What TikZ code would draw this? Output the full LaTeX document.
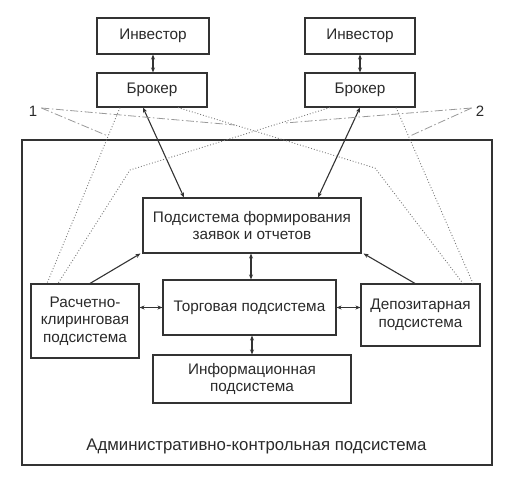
\documentclass[tikz,border=0pt]{standalone}
\usepackage{fontspec}
\setmainfont{Liberation Sans}
\usetikzlibrary{arrows.meta,calc}
\definecolor{ink}{HTML}{333333}
\definecolor{txt}{HTML}{2A2A2A}
\definecolor{dotc}{HTML}{777777}
\definecolor{dashc}{HTML}{999999}
\begin{document}
\begin{tikzpicture}[x=1pt,y=-1pt,
  box/.style={draw=ink,line width=1.1pt,inner sep=0pt,align=center,text=txt,font=\fontsize{15.3}{17.5}\selectfont},
  dbl/.style={draw=ink,line width=1.1pt,{Stealth[length=5pt,width=4pt]}-{Stealth[length=5pt,width=4pt]}},
  one/.style={draw=ink,line width=1.1pt,-{Stealth[length=5pt,width=4pt]}},
  dots/.style={draw=dotc,line width=0.9pt,dash pattern=on 0.9pt off 2pt},
  dd/.style={draw=dashc,line width=0.8pt,dash pattern=on 8pt off 2.5pt on 1.5pt off 2.5pt},
  lbl/.style={text=txt,font=\fontsize{15}{17}\selectfont,inner sep=0pt}]
\useasboundingbox (0,0) rectangle (528,488);
% outer frame
\node[box,minimum width=470pt,minimum height=325pt] (adm) at (257,302.5) {};
\node[text=txt,font=\fontsize{16.8}{19}\selectfont,inner sep=0pt] (admlbl) at (256.5,446) {Административно-контрольная подсистема};
% boxes
\node[box,minimum width=112pt,minimum height=36pt] (iL) at (153,36) {Инвестор};
\node[box,minimum width=110pt,minimum height=36pt] (iR) at (360,36) {Инвестор};
\node[box,minimum width=110pt,minimum height=34pt] (bL) at (152,90) {Брокер};
\node[box,minimum width=110pt,minimum height=34pt] (bR) at (360,90) {Брокер};
\node[box,minimum width=218pt,minimum height=55pt] (pf) at (252,225.5) {Подсистема формирования\\заявок и отчетов};
\node[box,minimum width=108pt,minimum height=74pt] (rs) at (85,321) {Расчетно-\\клиринговая\\подсистема};
\node[box,minimum width=173pt,minimum height=55pt] (tr) at (249.5,307.5) {Торговая подсистема};
\node[box,minimum width=119pt,minimum height=62pt] (dp) at (420.5,315) {Депозитарная\\подсистема};
\node[box,minimum width=198pt,minimum height=48pt] (inf) at (252,379) {Информационная\\подсистема};
% labels
\node[lbl] (n1) at (33,111) {1};
\node[lbl] (n2) at (480,111) {2};
% solid connectors
\draw[dbl] (iL.south) -- (bL.north -| iL.south);
\draw[dbl] (iR.south) -- (bR.north -| iR.south);
\draw[dbl] ([xshift=-9pt]bL.south) -- ([xshift=-68pt]pf.north);
\draw[dbl] (bR.south) -- ([xshift=66pt]pf.north);
\draw[one] ([xshift=5pt]rs.north) -- ([xshift=-2pt]pf.south west);
\draw[one] ([xshift=-5.5pt]dp.north) -- ([xshift=2pt]pf.south east);
\draw[dbl] ([xshift=-1pt]pf.south) -- ([xshift=1.5pt]tr.north);
\draw[dbl] (rs.east |- tr.west) -- (tr.west);
\draw[dbl] (tr.east) -- (dp.west |- tr.east);
\draw[dbl] ([xshift=2.5pt]tr.south) -- (inf.north);
% dotted lines
\coordinate (kL) at (130,170);
\coordinate (kR) at (375,168);
\draw[dots] ([xshift=-32pt]bL.south) -- ([xshift=-38pt]rs.north);
\draw[dots] ([xshift=-30pt]bR.south) -- (kL) -- ([xshift=-27pt]rs.north);
\draw[dots] ([xshift=26pt]bL.south) -- (kR) -- ([xshift=42.5pt]dp.north);
\draw[dots] ([xshift=36pt]bR.south) -- ([xshift=52.5pt]dp.north);
% dash-dot leaders
\coordinate (a1) at (108,136);
\coordinate (a2) at (235,125);
\coordinate (b1) at (410,136);
\coordinate (b2) at (285,123);
\draw[dd] ([xshift=4pt,yshift=3pt]n1.east) -- (a1);
\draw[dd] ([xshift=4pt,yshift=3pt]n1.east) -- (a2);
\draw[dd] ([xshift=-4pt,yshift=3pt]n2.west) -- (b1);
\draw[dd] ([xshift=-4pt,yshift=3pt]n2.west) -- (b2);
\end{tikzpicture}
\end{document}
